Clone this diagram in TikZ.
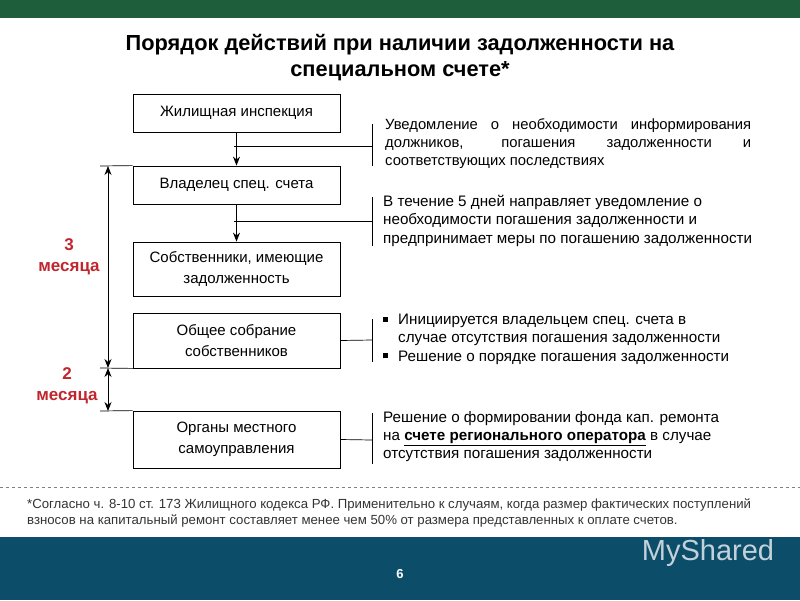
\documentclass[tikz,border=0pt]{standalone}
\usepackage{fontspec}
\setmainfont{Liberation Sans}
\usetikzlibrary{arrows.meta}
\definecolor{topgreen}{HTML}{1F5E3B}
\definecolor{band}{HTML}{0C4D6A}
\definecolor{redlbl}{HTML}{C0262D}
\newcommand{\sqbul}{\rlap{\raisebox{3pt}{\rule{5pt}{5pt}}}\hspace{15pt}}
\begin{document}
\begin{tikzpicture}[x=1pt,y=-1pt,
  box/.style={draw,line width=0.8pt,minimum width=207pt,align=center,font=\fontsize{15}{20.5}\selectfont,inner sep=0pt},
  txt/.style={anchor=north west,align=left,font=\fontsize{15.2}{18.3}\selectfont,inner sep=0pt},
  ln/.style={line width=0.7pt},
  arr/.style={line width=0.8pt,-{Stealth[length=9pt,width=7pt]}}]
\useasboundingbox (0,0) rectangle (800,600);
\fill[topgreen] (0,0) rectangle (800,18);
\fill[band] (0,537) rectangle (800,600);
\node[font=\bfseries\fontsize{21.8}{26}\selectfont,align=center] (title) at (400,58) {Порядок действий при наличии задолженности на\\специальном счете*};
\node[box,minimum height=38pt] (b1) at (236.5,113) {Жилищная инспекция};
\node[box,minimum height=38pt] (b2) at (236.5,185) {Владелец спец. счета};
\node[box,minimum height=54pt] (b3) at (236.5,269) {Собственники, имеющие\\задолженность};
\node[box,minimum height=55pt] (b4) at (236.5,340.5) {Общее собрание\\собственников};
\node[box,minimum height=57pt] (b5) at (236.5,439.5) {Органы местного\\самоуправления};
\draw[arr] (b1) -- (b2);
\draw[arr] (b2) -- (b3);
\coordinate (j1) at (234,146); \coordinate (j2) at (234,221);
\coordinate (k1) at (372,146); \coordinate (k2) at (372,221);
\coordinate (k3) at (372,340); \coordinate (k4) at (372,440);
\draw[ln] (j1) -- (k1); \draw[ln] (372,124) -- (372,166);
\draw[ln] (j2) -- (k2); \draw[ln] (372,197) -- (372,246);
\draw[ln] (b4.east) -- (k3); \draw[ln] (372,319) -- (372,362);
\draw[ln] (b5.east) -- (k4); \draw[ln] (372,413) -- (372,464);
\coordinate (l1) at (100,166); \coordinate (l2) at (100,368); \coordinate (l3) at (100,411);
\draw[ln] (l1) -- (b2.north west); \draw[ln] (l2) -- (b4.south west); \draw[ln] (l3) -- (b5.north west);
\coordinate (a1) at (108,166); \coordinate (a2) at (108,368); \coordinate (a3) at (108,411);
\draw[line width=0.8pt,{Stealth[length=9pt,width=7pt]}-{Stealth[length=9pt,width=7pt]}] (a1) -- (a2);
\draw[line width=0.8pt,{Stealth[length=9pt,width=7pt]}-{Stealth[length=9pt,width=7pt]}] (a2) -- (a3);
\node[text=redlbl,font=\bfseries\fontsize{17}{21}\selectfont,align=center] (m3) at (69,257) {3\\месяца};
\node[text=redlbl,font=\bfseries\fontsize{17}{21}\selectfont,align=center] (m2) at (67,386) {2\\месяца};
\node[txt,text width=366pt,align=justify,font=\fontsize{14.8}{18}\selectfont] (t1) at (385,118) {Уведомление о необходимости информирования должников, погашения задолженности и соответствующих последствиях};
\node[txt] (t2) at (383,195) {В течение 5 дней направляет уведомление о\\необходимости погашения задолженности и\\предпринимает меры по погашению задолженности};
\node[txt] (t3) at (383,314) {\sqbul Инициируется владельцем спец. счета в\\\hspace{15pt}случае отсутствия погашения задолженности\\\sqbul Решение о порядке погашения задолженности};
\node[txt] (t4) at (383,411) {Решение о формировании фонда кап. ремонта\\на \underline{\textbf{счете регионального оператора}} в случае\\отсутствия погашения задолженности};
\coordinate (d1) at (0,487); \coordinate (d2) at (800,487);
\draw[dashed,line width=0.5pt,gray] (d1) -- (d2);
\node[txt,font=\fontsize{13.2}{16.5}\selectfont,text=black!80] (fn) at (27,498) {*Согласно ч. 8-10 ст. 173 Жилищного кодекса РФ. Применительно к случаям, когда размер фактических поступлений\\взносов на капитальный ремонт составляет менее чем 50\% от размера представленных к оплате счетов.};
\node[text=white,font=\bfseries\fontsize{13}{15}\selectfont] (pg) at (400,574) {6};
\node[text=white!75!band,font=\fontsize{29}{32}\selectfont] (ms) at (708,553) {MyShared};
\end{tikzpicture}
\end{document}
